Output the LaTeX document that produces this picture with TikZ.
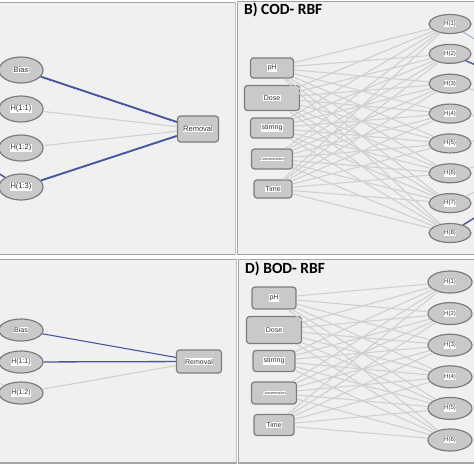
\documentclass[tikz,border=0pt]{standalone}
\usepackage{fontspec}
\setmainfont{Liberation Sans}
\newfontfamily\titlefont{Carlito}
\definecolor{panelgray}{HTML}{F0F0F0}
\definecolor{framegray}{HTML}{A4A4A4}
\definecolor{nodegray}{HTML}{C9C9C9}
\definecolor{rimgray}{HTML}{7C7C7C}
\definecolor{wtgray}{HTML}{D0D0D0}
\definecolor{wtblue}{HTML}{4757A5}
\definecolor{wtpale}{HTML}{A9B0D0}
\usetikzlibrary{shapes.geometric}

\newcommand{\lbl}[1]{{\setlength{\fboxsep}{0.6pt}\colorbox{white}{\textcolor{black!80}{#1}}}}

\tikzset{
  panel/.style={fill=panelgray, draw=framegray, line width=1.1pt},
  hidden/.style={ellipse, fill=nodegray, draw=rimgray, line width=1.2pt, inner sep=0pt, font=\fontsize{7}{8}\selectfont},
  inbox/.style={rectangle, rounded corners=3pt, fill=nodegray, draw=rimgray, line width=1.2pt, inner sep=0pt, font=\fontsize{7}{8}\selectfont},
  lite/.style={wtgray, line width=1.1pt},
  heavy/.style={wtblue, line width=1.9pt},
  paneltitle/.style={anchor=north west, inner sep=0pt, font=\titlefont\bfseries\fontsize{15.5}{16}\selectfont}
}

\begin{document}
\begin{tikzpicture}[x=1pt, y=-1pt]
  \useasboundingbox (0,0) rectangle (474,474);
  \fill[white] (0,0) rectangle (474,474);

  % A: top left, output layer
  \begin{scope}
    \clip (-5,2) rectangle (235.5,254.5);
    \draw[panel] (-5,2) rectangle (235.5,254.5);
    \node[hidden, minimum width=44pt, minimum height=26pt, font=\fontsize{7.5}{8}\selectfont] (biasA) at (21,70) {\lbl{Bias}};
    \node[hidden, minimum width=44pt, minimum height=26pt, font=\fontsize{7.5}{8}\selectfont] (hA1) at (21,109) {\lbl{H(1:1)}};
    \node[hidden, minimum width=44pt, minimum height=26pt, font=\fontsize{7.5}{8}\selectfont] (hA2) at (21,148) {\lbl{H(1:2)}};
    \node[hidden, minimum width=44pt, minimum height=26pt, font=\fontsize{7.5}{8}\selectfont] (hA3) at (21,187) {\lbl{H(1:3)}};
    \node[inbox, minimum width=41pt, minimum height=26pt, font=\fontsize{7.5}{8}\selectfont] (outA) at (198,129) {\lbl{Removal}};
    \coordinate (leftA) at (-40,150);
    \draw[heavy] (biasA) -- (outA);
    \draw[lite] (hA1) -- (outA);
    \draw[lite] (hA2) -- (outA);
    \draw[heavy] (hA3) -- (outA);
    \draw[wtblue, line width=1.5pt] (hA3) -- (leftA);
  \end{scope}

  % B: top right, COD hidden layer
  \begin{scope}
    \clip (237,1) rectangle (480,254.5);
    \draw[panel] (237,1) rectangle (480,254.5);
    \node[paneltitle] at (244,2.5) {B) COD- RBF};
    \node[inbox, minimum width=43pt, minimum height=20pt] (inB1) at (272,68) {\lbl{pH}};
    \node[inbox, minimum width=55pt, minimum height=25pt] (inB2) at (272,98) {\lbl{Dose}};
    \node[inbox, minimum width=43pt, minimum height=20pt] (inB3) at (272,128) {\lbl{stirring}};
    \node[inbox, minimum width=41pt, minimum height=20pt, font=\fontsize{3.8}{4}\selectfont] (inB4) at (272,159) {\lbl{Concentration}};
    \node[inbox, minimum width=38pt, minimum height=18pt] (inB5) at (273,189) {\lbl{Time}};
    \foreach \j in {1,...,8}
      \node[hidden, minimum width=42pt, minimum height=19pt, font=\fontsize{6}{7}\selectfont] (hB\j) at (450,{24+29.86*(\j-1)}) {\lbl{H(\j)}};
    \foreach \i in {1,...,5}
      \foreach \j in {1,...,8}
        \draw[lite] (inB\i) -- (hB\j);
    \coordinate (outB) at (620,128);
    \draw[wtpale, line width=1pt] (hB1) -- (outB);
    \draw[wtblue, line width=1.4pt] (hB2) -- (outB);
    \foreach \j in {3,...,7}
      \draw[lite] (hB\j) -- (outB);
    \draw[wtblue, line width=1.4pt] (hB8) -- (outB);
  \end{scope}

  % C: bottom left, output layer
  \begin{scope}
    \clip (-5,259) rectangle (236.5,463);
    \draw[panel] (-5,259) rectangle (236.5,463);
    \node[hidden, minimum width=44pt, minimum height=22pt] (biasC) at (21,330) {\lbl{Bias}};
    \node[hidden, minimum width=44pt, minimum height=22pt] (hC1) at (21,362) {\lbl{H(1:1)}};
    \node[hidden, minimum width=44pt, minimum height=22pt] (hC2) at (21,393) {\lbl{H(1:2)}};
    \node[inbox, minimum width=45pt, minimum height=23pt] (outC) at (199,361.5) {\lbl{Removal}};
    \coordinate (leftC) at (-40,365);
    \draw[wtblue, line width=1.1pt] (biasC) -- (outC);
    \draw[wtblue, line width=1.3pt] (hC1) -- (outC);
    \draw[lite] (hC2) -- (outC);
    \draw[lite] (hC2) -- (leftC);
  \end{scope}

  % D: bottom right, BOD hidden layer
  \begin{scope}
    \clip (238,259) rectangle (480,463);
    \draw[panel] (238,259) rectangle (480,463);
    \node[paneltitle] at (245,261.5) {D) BOD- RBF};
    \node[inbox, minimum width=44pt, minimum height=22pt] (inD1) at (274,298) {\lbl{pH}};
    \node[inbox, minimum width=55pt, minimum height=27pt] (inD2) at (274,330) {\lbl{Dose}};
    \node[inbox, minimum width=42pt, minimum height=21pt] (inD3) at (274,361) {\lbl{stirring}};
    \node[inbox, minimum width=45pt, minimum height=22pt, font=\fontsize{3.8}{4}\selectfont] (inD4) at (274,393) {\lbl{Concentration}};
    \node[inbox, minimum width=40pt, minimum height=21pt] (inD5) at (274,425) {\lbl{Time}};
    \foreach \j in {1,...,6}
      \node[hidden, minimum width=44pt, minimum height=22pt, font=\fontsize{6}{7}\selectfont] (hD\j) at (450,{282+31.6*(\j-1)}) {\lbl{H(\j)}};
    \foreach \i in {1,...,5}
      \foreach \j in {1,...,6}
        \draw[lite] (inD\i) -- (hD\j);
  \end{scope}
\end{tikzpicture}
\end{document}
